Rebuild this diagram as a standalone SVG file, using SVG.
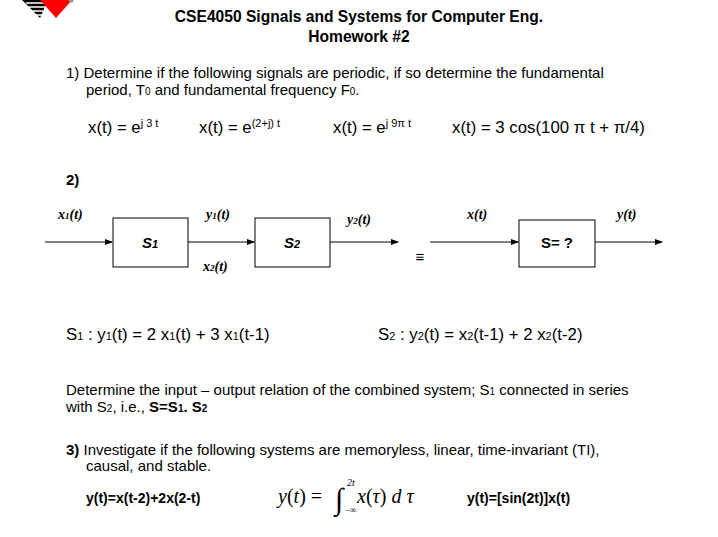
<svg xmlns="http://www.w3.org/2000/svg" width="718" height="537" viewBox="0 0 718 537">
<style>
.t{font-family:"Liberation Sans",Arial,sans-serif;font-size:15px;fill:#000}
.b{font-weight:bold}
.eq{font-family:"Liberation Sans",Arial,sans-serif;font-size:16.8px}
.i{font-family:"Liberation Serif","Times New Roman",serif;font-style:italic;font-weight:bold;font-size:14px}
.box{fill:#fff;stroke:#000;stroke-width:1}
.ln{stroke:#000;stroke-width:1.2;fill:none;marker-end:url(#a)}
</style>
<defs><marker id="a" markerWidth="8" markerHeight="8" refX="7" refY="4" orient="auto" markerUnits="userSpaceOnUse"><path d="M0,1 L8,4 L0,7 z" fill="#000"/></marker></defs>
<rect width="718" height="537" fill="#fff"/>
<g id="logo">
<path d="M22,0 L48,0 L40,18 Z" fill="#000"/>
<path d="M26,3 L46,3 M28,7 L45,7 M31,11 L43,11 M34,15 L42,15" stroke="#fff" stroke-width="1.5"/>
<path d="M40,0 L72,0 L56,18 Z" fill="#f00"/>
<path d="M68,0 L74,0 L72,3 Z" fill="#999"/>
</g>
<text class="t b" x="359" y="22" text-anchor="middle" style="font-size:15.6px">CSE4050 Signals and Systems for Computer Eng.</text>
<text class="t b" x="359" y="42" text-anchor="middle" style="font-size:15.6px">Homework  #2</text>
<text class="t" x="66" y="78">1) Determine if the following signals are periodic, if so determine the fundamental</text>
<text class="t" x="86" y="95">period, T<tspan font-size="10">0</tspan> and fundamental frequency F<tspan font-size="10">0</tspan>.</text>
<text class="eq" x="88" y="133">x(t) = e<tspan font-size="11" dy="-6">j 3 t</tspan></text>
<text class="eq" x="199" y="133">x(t) = e<tspan font-size="11" dy="-6">(2+j) t</tspan></text>
<text class="eq" x="333" y="133">x(t) = e<tspan font-size="11" dy="-6">j 9π t</tspan></text>
<text class="eq" x="452" y="133">x(t) = 3 cos(100 π t + π/4)</text>
<text class="t b" x="66" y="185">2)</text>
<g id="connectors">
<line class="ln" x1="45" y1="242" x2="112" y2="242"/>
<line class="ln" x1="188" y1="242" x2="254" y2="242"/>
<line class="ln" x1="330" y1="242" x2="398" y2="242"/>
<line class="ln" x1="430" y1="242" x2="518" y2="242"/>
<line class="ln" x1="595" y1="242" x2="662" y2="242"/>
</g>
<g id="S1"><rect class="box" x="113" y="218" width="75" height="49"/><text class="t b" x="150" y="248" text-anchor="middle" style="font-size:15px;font-style:italic">S<tspan font-size="11">1</tspan></text></g>
<g id="S2"><rect class="box" x="255" y="218" width="75" height="49"/><text class="t b" x="292" y="248" text-anchor="middle" style="font-size:15px;font-style:italic">S<tspan font-size="11">2</tspan></text></g>
<g id="S"><rect class="box" x="519" y="220" width="76" height="47"/><text class="t b" x="557" y="248" text-anchor="middle" style="font-size:15px">S= ?</text></g>
<text class="i" x="58" y="219">x<tspan font-size="9">1</tspan>(t)</text>
<text class="i" x="206" y="219">y<tspan font-size="9">1</tspan>(t)</text>
<text class="i" x="203" y="271">x<tspan font-size="9">2</tspan>(t)</text>
<text class="i" x="347" y="224">y<tspan font-size="9">2</tspan>(t)</text>
<text class="i" x="467" y="219">x(t)</text>
<text class="i" x="617" y="219">y(t)</text>
<text class="t" x="420" y="262" text-anchor="middle">≡</text>
<text class="eq" x="66" y="340">S<tspan font-size="11">1</tspan> : y<tspan font-size="11">1</tspan>(t) = 2 x<tspan font-size="11">1</tspan>(t) + 3 x<tspan font-size="11">1</tspan>(t-1)</text>
<text class="eq" x="378" y="340">S<tspan font-size="11">2</tspan> : y<tspan font-size="11">2</tspan>(t) = x<tspan font-size="11">2</tspan>(t-1) +  2 x<tspan font-size="11">2</tspan>(t-2)</text>
<text class="t" x="66" y="395">Determine the input – output relation of the combined system; S<tspan font-size="10">1</tspan> connected in series</text>
<text class="t" x="66" y="412">with S<tspan font-size="10">2</tspan>, i.e., <tspan font-weight="bold">S=S<tspan font-size="10">1</tspan>. S<tspan font-size="10">2</tspan></tspan></text>
<text class="t" x="66" y="455"><tspan font-weight="bold">3)</tspan>  Investigate if the following systems are memoryless, linear, time-invariant (TI),</text>
<text class="t" x="86" y="471">causal, and stable.</text>
<text class="t b" x="86" y="503" style="font-size:14px">y(t)=x(t-2)+2x(2-t)</text>
<g font-family="Liberation Serif,serif" font-size="20">
<text x="278" y="503"><tspan font-style="italic">y</tspan>(<tspan font-style="italic">t</tspan>) =</text>
<text x="335" y="509" font-size="30">∫</text>
<text x="347" y="486" font-size="10" font-style="italic">2t</text>
<text x="345" y="513" font-size="9">−∞</text>
<text x="357" y="503"><tspan font-style="italic">x</tspan>(<tspan font-style="italic">τ</tspan>) <tspan font-style="italic">d τ</tspan></text>
</g>
<text class="t b" x="467" y="503" style="font-size:14px">y(t)=[sin(2t)]x(t)</text>
</svg>
